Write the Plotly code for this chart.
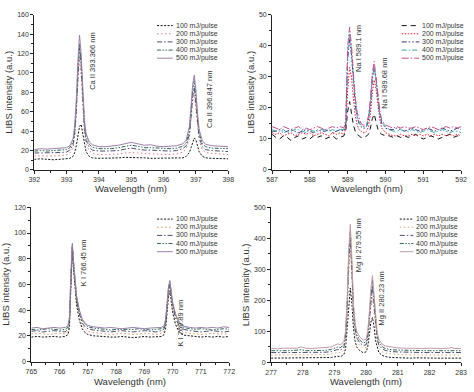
import plotly.graph_objects as go

W, H = 474, 392
series_names = ["100 mJ/pulse", "200 mJ/pulse", "300 mJ/pulse", "400 mJ/pulse", "500 mJ/pulse"]
x_title = "Wavelength (nm)"
y_title = "LIBS intensity (a.u.)"

# ---------------- Ca panel ----------------
ca_wavelength = [392.0, 392.2, 392.4, 392.6, 392.8, 393.0, 393.1, 393.2, 393.25, 393.3,
                 393.35, 393.4, 393.45, 393.5, 393.55, 393.6, 393.7, 393.8, 394.0, 394.2,
                 394.4, 394.6, 394.8, 395.0, 395.2, 395.4, 395.6, 395.8, 396.0, 396.2,
                 396.4, 396.6, 396.7, 396.8, 396.85, 396.9, 396.95, 397.0, 397.05, 397.1,
                 397.2, 397.3, 397.5, 397.7, 398.0]
ca_100 = [11, 11.5, 11, 10.5, 11, 11.5, 12, 14, 18, 25,
          36, 45, 47, 38, 27, 19, 14, 12.5, 12, 12,
          12.5, 12.5, 13, 13, 12.5, 12.5, 12, 12, 12, 12,
          12, 12.5, 14, 18, 23, 29, 33, 31, 25, 19,
          14, 12.5, 12, 11.5, 11.5]
ca_200 = [14.5, 14.5, 14, 14.5, 15, 15.5, 17.5, 23, 34, 56,
          92, 114, 97, 64, 39, 27, 20, 17, 16, 16,
          16, 16.5, 17.5, 18, 17.5, 17, 16.5, 16.5, 16, 16,
          16.5, 18.5, 22, 33, 50, 71, 80, 65, 45, 30,
          21, 18, 17, 16.5, 16]
ca_300 = [17.5, 17.5, 18, 17.5, 18, 18.5, 20.5, 26, 38, 62,
          100, 126, 108, 72, 44, 31, 23.5, 20.5, 19.5, 19.5,
          19.5, 20, 21.5, 22.5, 21.5, 20.5, 20.5, 20, 19.5, 19.5,
          20, 22, 25, 37, 55, 76, 85, 70, 49, 34,
          24, 21, 20, 19.5, 19]
ca_400 = [19.5, 20, 19.5, 20, 20.5, 21, 23, 29, 41, 66,
          104, 130, 112, 76, 48, 35, 26.5, 23.5, 22, 22,
          22, 23, 24.5, 25.5, 24.5, 23, 23, 22.5, 22, 22,
          22.5, 24.5, 28, 41, 60, 82, 92, 76, 54, 38,
          27, 24, 22.5, 22, 22]
ca_500 = [21, 22, 21.5, 22, 22.5, 23, 25, 32, 45, 72,
          112, 139, 120, 82, 52, 38, 29, 26, 24, 24,
          24.5, 25.5, 27, 28.5, 27, 25.5, 26, 24.5, 24, 24.5,
          25, 27, 31, 45, 65, 88, 98, 82, 58, 42,
          30, 26.5, 25, 24.5, 24]
ca_labels = ["Ca II 393.366 nm", "Ca II 396.847 nm"]

# ---------------- Na panel ----------------
na_wavelength = [587.0, 587.1, 587.2, 587.3, 587.4, 587.5, 587.6, 587.7, 587.8, 587.9,
                 588.0, 588.1, 588.2, 588.3, 588.4, 588.5, 588.6, 588.7, 588.8, 588.9,
                 588.95, 589.0, 589.05, 589.1, 589.15, 589.2, 589.25, 589.3, 589.35, 589.4,
                 589.45, 589.5, 589.55, 589.6, 589.65, 589.7, 589.75, 589.8, 589.85, 589.9,
                 590.0, 590.1, 590.2, 590.3, 590.4, 590.5, 590.6, 590.7, 590.8, 590.9,
                 591.0, 591.1, 591.2, 591.3, 591.4, 591.5, 591.6, 591.7, 591.8, 591.9, 592.0]
na_100 = [11.5, 10.5, 10, 11, 10.5, 9.5, 10.5, 11, 10, 10.5,
          10, 11, 10.5, 11, 10, 10.5, 11, 10, 10.5, 11,
          13, 19, 22, 18, 14.5, 12.5, 11.5, 11, 10.5, 10.5,
          10.5, 11, 11.5, 13.5, 16.5, 18, 15.5, 13, 12, 11.5,
          11, 11, 10.5, 11, 10.5, 11, 10.5, 11, 11.5, 10.5,
          10, 10.5, 11, 10.5, 10, 10.5, 11, 11.5, 10.5, 11, 10.5]
na_200 = [12, 11.5, 12, 11, 11.5, 12, 11, 11.5, 12, 11.5,
          12, 11, 11.5, 12, 11.5, 11, 12, 11.5, 12, 11.5,
          13.5, 26, 33, 30, 23, 17.5, 14.5, 13, 12.5, 12,
          12, 12.5, 14, 18, 25, 29, 26, 20, 16, 13.5,
          12, 11.5, 11, 11, 11.5, 11, 11, 11.5, 11, 11.5,
          11, 11.5, 11, 11.5, 11, 11.5, 11, 11.5, 11, 11.5, 11]
na_300 = [12.5, 12.5, 13, 12, 12.5, 13, 12.5, 12, 12.5, 13,
          12.5, 12, 13, 12.5, 12.5, 13, 12, 12.5, 13, 12.5,
          15, 36, 42, 37, 28, 21, 17, 15, 14, 13.5,
          13.5, 14, 16, 21, 29, 33, 29, 22, 17.5, 15,
          13.5, 13, 13, 13.5, 13, 12.5, 13, 13.5, 13, 12.5,
          13, 13.5, 13, 12.5, 13, 13.5, 13, 12.5, 13, 13.5, 13]
na_400 = [13, 12.5, 12.5, 13, 12, 12.5, 13, 13, 12.5, 12,
          13, 12.5, 12.5, 13, 13, 12.5, 13, 12.5, 13, 13,
          15.5, 38, 44, 38, 29, 22, 17.5, 15.5, 14.5, 14,
          14, 14.5, 16.5, 22, 30, 33, 29, 22.5, 18, 15.5,
          14, 13, 12.5, 12.5, 13, 12.5, 12.5, 13, 12.5, 12,
          12.5, 13, 12.5, 12, 12.5, 13, 12.5, 12, 12.5, 12.5, 12]
na_500 = [14, 13.5, 13, 14, 13.5, 13, 13.5, 14, 13, 13.5,
          13, 13.5, 14, 13.5, 13, 13.5, 14, 13.5, 14, 13.5,
          16.5, 40, 46, 40, 30, 23, 18.5, 16.5, 15, 14.5,
          14.5, 15, 17.5, 23, 31, 35, 30, 23.5, 19, 16,
          14.5, 14, 13.5, 14, 13.5, 14, 13.5, 13.5, 14, 13.5,
          13, 13.5, 14, 13.5, 13, 13.5, 14, 13.5, 14, 13.5, 14]
na_labels = ["Na I 589.1 nm", "Na I 589.68 nm"]

# ---------------- K panel ----------------
k_wavelength = [765.0, 765.2, 765.4, 765.6, 765.8, 766.0, 766.2, 766.3, 766.35, 766.4,
                766.45, 766.5, 766.55, 766.6, 766.7, 766.8, 766.9, 767.0, 767.2, 767.4,
                767.6, 767.8, 768.0, 768.2, 768.4, 768.6, 768.8, 769.0, 769.2, 769.4,
                769.6, 769.7, 769.75, 769.8, 769.85, 769.9, 769.95, 770.0, 770.1, 770.2,
                770.3, 770.4, 770.6, 770.8, 771.0, 771.2, 771.4, 771.6, 771.8, 772.0]
k_100 = [19, 19.5, 19, 19.5, 19.5, 19, 19.5, 21, 27, 58,
         86, 70, 54, 44, 32, 25.5, 22.5, 21, 20, 19.5,
         19.5, 19, 19, 19.5, 19, 18.5, 19, 19.5, 19, 19,
         19.5, 21, 26, 37, 50, 55, 47, 38, 29, 24,
         21.5, 20.5, 20, 19.5, 19, 19.5, 19, 19.5, 19, 19.5]
k_200 = [21.5, 22, 21.5, 21, 21.5, 22, 21.5, 23.5, 30, 63,
         88, 72, 56, 46, 35, 28, 25, 23.5, 22.5, 22,
         21.5, 21, 21.5, 22, 21.5, 21, 21.5, 22, 21.5, 21,
         22, 23.5, 28, 40, 53, 58, 50, 41, 32, 27,
         24, 22.5, 22, 21.5, 21, 21.5, 22, 21.5, 21.5, 21.5]
k_300 = [23.5, 24, 23, 23.5, 24, 23.5, 23, 25.5, 32, 66,
         90, 74, 58, 48, 37, 30, 27, 25.5, 24.5, 24,
         23.5, 23, 23.5, 24, 23.5, 23, 23.5, 24, 23.5, 23,
         24, 25.5, 30, 42, 55, 60, 52, 43, 34, 29,
         26, 25, 24, 23.5, 23, 23.5, 24, 23.5, 23, 23.5]
k_400 = [25, 24.5, 25, 25.5, 25, 24.5, 25, 27, 34, 68,
         91, 75, 60, 50, 39, 32, 29, 27, 26, 25.5,
         25, 24.5, 25, 25, 24.5, 25, 25.5, 25, 24.5, 25,
         25.5, 27, 32, 44, 57, 62, 54, 45, 36, 31,
         28, 26.5, 25.5, 25, 25.5, 25, 24.5, 25, 25.5, 25]
k_500 = [26, 26.5, 25.5, 26, 26.5, 26, 26.5, 28, 35, 70,
         92, 76, 61, 51, 40, 33, 30, 28, 27, 26.5,
         26, 26.5, 26, 25.5, 26, 26.5, 26, 25.5, 26, 26.5,
         26.5, 28, 33, 45, 58, 63, 55, 46, 37, 32,
         29, 27.5, 26.5, 26, 26.5, 26, 26.5, 26, 27, 26.5]
k_labels = ["K I 766.45 nm", "K I 769.89 nm"]

# ---------------- Mg panel ----------------
mg_wavelength = [277.0, 277.2, 277.4, 277.6, 277.8, 277.95, 278.1, 278.3, 278.5, 278.7,
                 278.9, 279.0, 279.1, 279.2, 279.3, 279.35, 279.4, 279.45, 279.5, 279.55,
                 279.6, 279.65, 279.7, 279.8, 279.9, 280.0, 280.05, 280.1, 280.15, 280.2,
                 280.25, 280.3, 280.35, 280.4, 280.5, 280.6, 280.8, 281.0, 281.2, 281.4,
                 281.6, 281.8, 282.0, 282.2, 282.4, 282.6, 282.7, 282.8, 283.0]
mg_100 = [14, 14, 14, 15, 14, 15, 14, 14, 15, 15,
          16, 18, 20, 19, 26, 45, 110, 200, 240, 190,
          110, 70, 50, 38, 32, 34, 50, 90, 130, 145,
          115, 70, 45, 32, 23, 19, 16, 15, 15, 14,
          15, 14, 14, 14, 14, 15, 15, 14, 14]
mg_200 = [24, 24, 24, 25, 24, 26, 24, 24, 25, 25,
          27, 29, 32, 31, 40, 65, 150, 280, 360, 260,
          145, 95, 70, 54, 46, 48, 70, 120, 180, 210,
          160, 100, 62, 46, 35, 30, 27, 26, 25, 24,
          25, 24, 24, 24, 24, 25, 25, 24, 24]
mg_300 = [32, 31, 32, 32, 32, 34, 32, 32, 32, 33,
          35, 38, 42, 40, 50, 80, 175, 320, 400, 295,
          165, 108, 80, 63, 55, 57, 80, 135, 205, 245,
          185, 115, 75, 57, 45, 39, 35, 34, 33, 32,
          33, 32, 32, 32, 32, 33, 33, 32, 32]
mg_400 = [38, 37, 38, 38, 39, 41, 38, 38, 39, 39,
          42, 45, 50, 48, 60, 90, 190, 345, 425, 315,
          180, 120, 90, 72, 63, 66, 90, 150, 225, 265,
          205, 130, 85, 66, 52, 45, 41, 40, 39, 38,
          39, 38, 38, 38, 38, 39, 40, 38, 38]
mg_500 = [45, 44, 46, 45, 46, 50, 46, 45, 46, 47,
          50, 55, 60, 57, 70, 100, 200, 360, 445, 330,
          190, 130, 100, 82, 72, 75, 100, 160, 240, 280,
          220, 140, 95, 75, 60, 53, 49, 47, 46, 45,
          46, 45, 46, 45, 45, 46, 48, 45, 45]
mg_labels = ["Mg II 279.55 nm", "Mg II 280.23 nm"]

# ---------------- styles ----------------
styleA = [  # Ca / K / Mg panels
    dict(color="#111111", dash="2px,1.5px"),
    dict(color="#e07a86", dash="1.5px,2.5px"),
    dict(color="#4b5070", dash="5px,2px,1.5px,2px"),
    dict(color="#2f6656", dash="4px,1.5px,1.5px,1.5px,1.5px,1.5px"),
    dict(color="#9c7fa8", dash="solid"),
]
styleK = [dict(s) for s in styleA]
styleK[1]["color"] = "#d9925e"
styleM = [dict(s) for s in styleA]
styleM[1]["color"] = "#e2a878"
styleM[4]["color"] = "#c49aac"
styleN = [  # Na panel
    dict(color="#111111", dash="5px,4px"),
    dict(color="#d8202e", dash="1.5px,1.5px"),
    dict(color="#33338f", dash="5px,2px,1.5px,2px,1.5px,2px"),
    dict(color="#3aa6a6", dash="5px,2px,1.5px,2px"),
    dict(color="#c2508a", dash="7px,2px,1.5px,2px"),
]


def px_x(p):
    return p / W


def px_y(p):
    return 1 - p / H


panels = [
    dict(x=ca_wavelength, ys=[ca_100, ca_200, ca_300, ca_400, ca_500], styles=styleA,
         xr=[392, 398], yr=[0, 160], ydt=20, xdom=[29, 228], ydom=[11, 169],
         labels=ca_labels, lab_xy=[(393.8, 113), (397.4, 73)],
         leg=(155, 171, 22), xt_y=188),
    dict(x=na_wavelength, ys=[na_100, na_200, na_300, na_400, na_500], styles=styleN,
         xr=[587, 592], yr=[0, 50], ydt=10, xdom=[273, 467], ydom=[11, 169],
         labels=na_labels, lab_xy=[(589.3, 39), (589.95, 28)],
         leg=(406, 424, 22), xt_y=188),
    dict(x=k_wavelength, ys=[k_100, k_200, k_300, k_400, k_500], styles=styleK,
         xr=[765, 772], yr=[0, 120], ydt=20, xdom=[26, 229], ydom=[207, 364],
         labels=k_labels, lab_xy=[(766.85, 77), (770.28, 30)],
         leg=(155, 171, 219), xt_y=384),
    dict(x=mg_wavelength, ys=[mg_100, mg_200, mg_300, mg_400, mg_500], styles=styleM,
         xr=[277, 283], yr=[0, 500], ydt=100, xdom=[272, 467], ydom=[207, 365],
         labels=mg_labels, lab_xy=[(279.76, 376), (280.5, 206)],
         leg=(404, 418, 219), xt_y=384),
]

fig = go.Figure()
shapes, annotations = [], []
FONT = "Liberation Sans, Arial, sans-serif"
TXT = "#333333"

for i, p in enumerate(panels):
    n = "" if i == 0 else str(i + 1)
    xa, ya = "x" + n, "y" + n
    for name, y, st in zip(series_names, p["ys"], p["styles"]):
        assert len(y) == len(p["x"])
        fig.add_trace(go.Scatter(x=p["x"], y=y, mode="lines", name=name, xaxis=xa, yaxis=ya,
                                 showlegend=False,
                                 line=dict(color=st["color"], dash=st["dash"], width=1)))
    axis_common = dict(showline=True, linecolor="#222222", linewidth=1, ticks="outside",
                       ticklen=3, tickwidth=1, tickcolor="#222222", showgrid=False,
                       zeroline=False, tickfont=dict(family=FONT, size=7, color=TXT),
                       mirror=False, ticklabeloverflow="allow")
    fig.layout["xaxis" + n] = dict(axis_common, domain=[px_x(p["xdom"][0]), px_x(p["xdom"][1])],
                                   range=p["xr"], dtick=1, anchor=ya,
                                   minor=dict(ticks="outside", ticklen=2, dtick=0.5, tickcolor="#222222"))
    fig.layout["yaxis" + n] = dict(axis_common, domain=[px_y(p["ydom"][1]), px_y(p["ydom"][0])],
                                   range=p["yr"], dtick=p["ydt"], anchor=xa,
                                   minor=dict(ticks="outside", ticklen=2, dtick=p["ydt"] / 2, tickcolor="#222222"),
                                   title=dict(text=y_title, standoff=2,
                                              font=dict(family=FONT, size=9.5, color=TXT)))
    # x-axis title
    annotations.append(dict(x=px_x((p["xdom"][0] + p["xdom"][1]) / 2), y=px_y(p["xt_y"]),
                            xref="paper", yref="paper", text=x_title, showarrow=False,
                            xanchor="center", yanchor="middle",
                            font=dict(family=FONT, size=9.5, color=TXT)))
    for txt, (lx, ly) in zip(p["labels"], p["lab_xy"]):
        annotations.append(dict(x=lx, y=ly, xref=xa, yref=ya, text=txt, textangle=-90,
                                showarrow=False, font=dict(family=FONT, size=7.5, color=TXT)))
    # legend drawn as line samples + text
    x0, x1, ytop = p["leg"]
    for j, (name, st) in enumerate(zip(series_names, p["styles"])):
        yy = ytop + j * 8.3
        shapes.append(dict(type="line", xref="paper", yref="paper",
                           x0=px_x(x0), x1=px_x(x1), y0=px_y(yy), y1=px_y(yy),
                           line=dict(color=st["color"], dash=st["dash"], width=1)))
        annotations.append(dict(x=px_x(x1 + 1), y=px_y(yy), xref="paper", yref="paper",
                                text=name, showarrow=False, xanchor="left", yanchor="middle",
                                font=dict(family=FONT, size=7, color=TXT)))

fig.update_layout(width=W, height=H, margin=dict(l=0, r=0, t=0, b=0),
                  paper_bgcolor="white", plot_bgcolor="white",
                  shapes=shapes, annotations=annotations, showlegend=False)
fig.write_html("out.html", config={"displayModeBar": False},
               post_script="document.body.style.margin='0';")
